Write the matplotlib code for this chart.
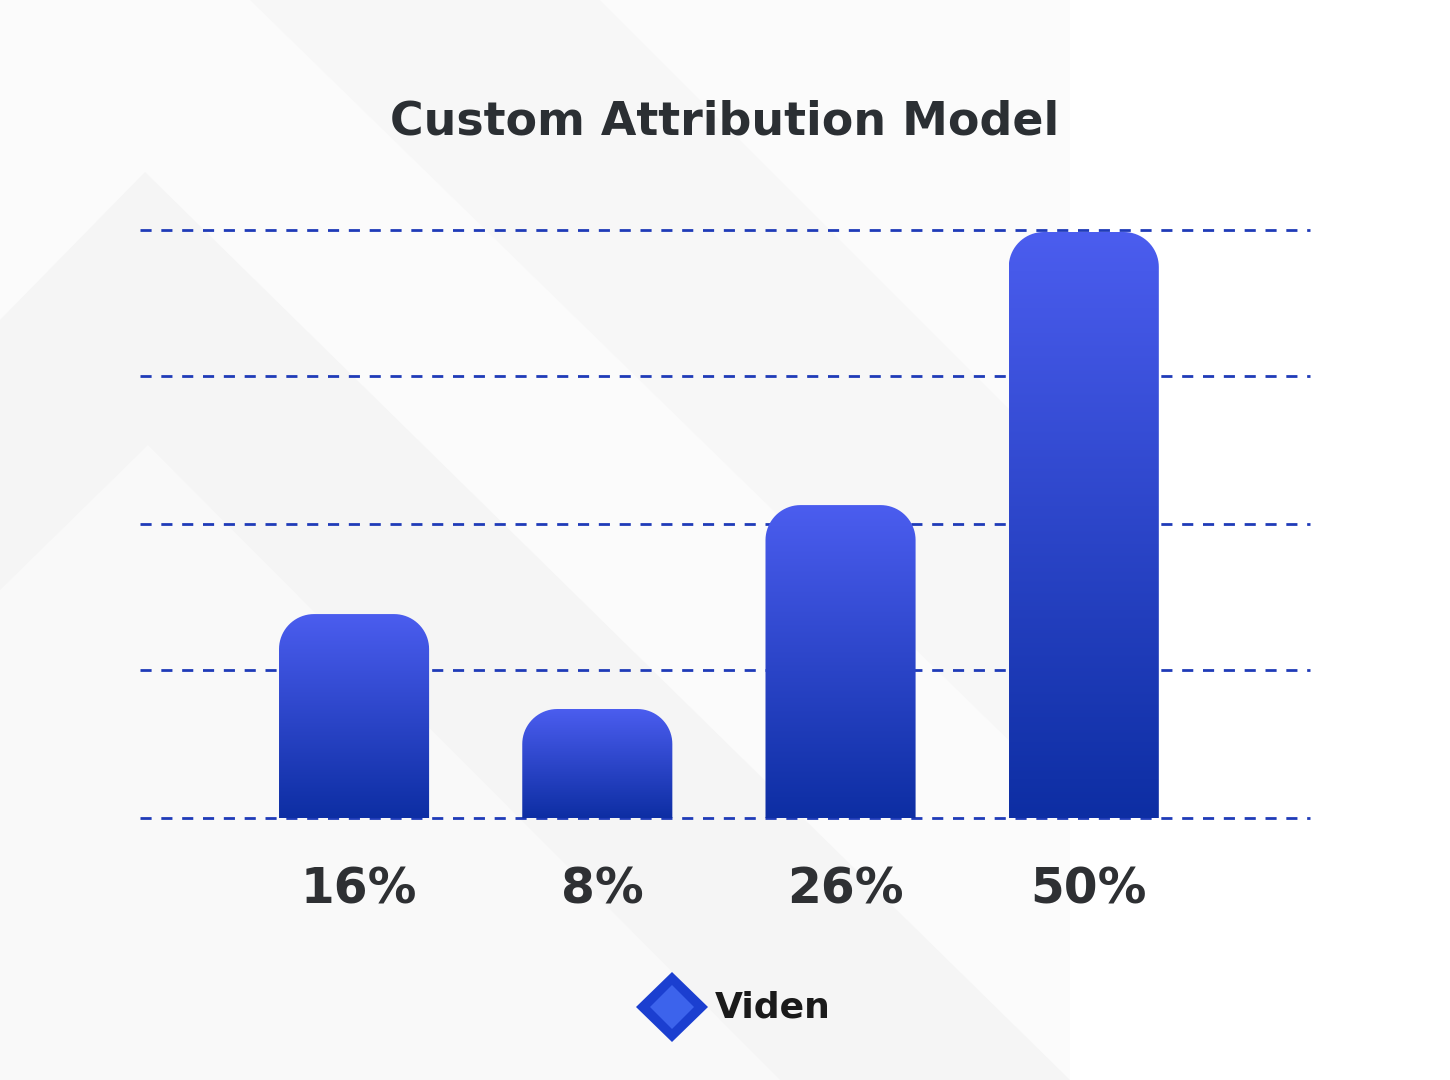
import numpy as np
import matplotlib
matplotlib.use("Agg")
import matplotlib.pyplot as plt
from matplotlib.path import Path
from matplotlib.patches import PathPatch, Polygon
from matplotlib.colors import LinearSegmentedColormap

labels = ["16%", "8%", "26%", "50%"]
heights = [17.4, 9.3, 26.7, 50.0]   # drawn heights
grid_levels = [0, 12.6, 25.1, 37.7, 50.2]

W, H = 1450, 1080
fig = plt.figure(figsize=(14.5, 10.8), dpi=100)
fig.patch.set_facecolor("white")

bg = fig.add_axes([0, 0, 1, 1], zorder=0)
bg.set_xlim(0, W); bg.set_ylim(H, 0); bg.axis("off")
bg.add_patch(Polygon([[0, 0], [1070, 0], [1070, 1080], [0, 1080]], color="#fbfbfb", lw=0))
bg.add_patch(Polygon([[0, 320], [145, 172], [1070, 1080], [0, 1080]], color="#f5f5f5", lw=0))
bg.add_patch(Polygon([[0, 590], [148, 445], [780, 1080], [0, 1080]], color="#f9f9f9", lw=0))
bg.add_patch(Polygon([[250, 0], [600, 0], [1070, 470], [1070, 800]], color="#f6f6f6", lw=0, alpha=0.7))

ax = fig.add_axes([140 / W, (H - 818) / H, 1170 / W, 586 / H], zorder=1)
ax.patch.set_alpha(0)
x0, x1 = -0.88, 3.93
ax.axis("off")
for g in grid_levels:
    ax.axhline(g, color="#1f3bb8", lw=2, ls=(0, (4, 3.5)), zorder=1, clip_on=False)

cmap = LinearSegmentedColormap.from_list("g", ["#0d2ea3", "#4b5def"])
grad = np.linspace(0, 1, 256).reshape(-1, 1)
bw = 0.617
px_x = 243.0
px_y = 586 / 50
r = 35
rx, ry = r / px_x, r / px_y
for i, h in enumerate(heights):
    l, rr = i - bw / 2, i + bw / 2
    verts = [(l, 0), (l, h - ry)]
    for t in np.linspace(np.pi, np.pi / 2, 20):
        verts.append((l + rx + rx * np.cos(t), h - ry + ry * np.sin(t)))
    for t in np.linspace(np.pi / 2, 0, 20):
        verts.append((rr - rx + rx * np.cos(t), h - ry + ry * np.sin(t)))
    verts += [(rr, 0), (l, 0)]
    patch = PathPatch(Path(verts), fc="none", ec="none")
    ax.add_patch(patch)
    im = ax.imshow(grad, extent=[l, rr, 0, h], origin="lower", cmap=cmap,
                   aspect="auto", zorder=2)
    im.set_clip_path(patch)
    ax.text(i + 0.02, -6.1, labels[i], ha="center", va="center", fontsize=35,
            fontweight="bold", color="#2e3033", family="DejaVu Sans")
ax.set_xlim(x0, x1); ax.set_ylim(0, 50)

fig.text(0.5, 1 - 122 / H, "Custom Attribution Model", ha="center", va="center",
         fontsize=33, fontweight="bold", color="#2b2f33", family="DejaVu Sans")

bg.add_patch(Polygon([[672, 972], [708, 1007], [672, 1042], [636, 1007]], color="#1b3fd0", lw=0))
bg.add_patch(Polygon([[672, 985], [694, 1007], [672, 1029], [650, 1007]], color="#3c63ec", lw=0))
bg.text(715, 1008, "Viden", ha="left", va="center", fontsize=26, fontweight="bold",
        color="#1a1a1a", family="DejaVu Sans")

fig.savefig("out.png", dpi=100)
